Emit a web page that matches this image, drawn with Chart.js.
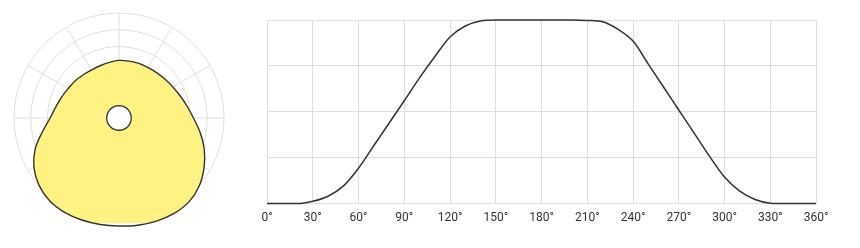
<!DOCTYPE html>
<html>
<head>
<meta charset="utf-8">
<script src="https://cdn.jsdelivr.net/npm/chart.js@4/dist/chart.umd.min.js"></script>
<style>
  html, body { margin: 0; padding: 0; background: #ffffff; }
  #wrap { position: relative; width: 860px; height: 248px; overflow: hidden; }
  #polar { position: absolute; left: 0; top: 0; }
  #curve { position: absolute; left: 240px; top: 0; }
</style>
</head>
<body>
<div id="wrap">
  <canvas id="polar" width="240" height="248"></canvas>
  <canvas id="curve" width="620" height="248"></canvas>
</div>
<script>
// ---- Polar (light distribution) data: angle in degrees clockwise from top ----
const polarAngles = [0,10,20,30,40,50,60,70,80,90,100,110,120,130,140,150,160,170,
                     180,190,200,210,220,230,240,250,260,270,280,290,300,310,320,330,340,350];
const polarValues = [3.43,3.44,3.46,3.47,3.51,3.58,3.70,3.87,4.11,4.43,4.90,5.40,5.85,6.25,6.50,6.56,6.53,6.48,
                     6.43,6.44,6.46,6.48,6.43,6.22,5.85,5.30,4.62,4.10,3.82,3.64,3.50,3.42,3.34,3.29,3.31,3.36];
const holeValue = 0.73;
const polarRings = [0.25,1.25,2.25,3.25,4.25,5.25,6.25];
const polarMax = 6.25;

// ---- Curve data ----
const curveAngles = [0,10,20,30,40,50,60,70,80,90,100,110,120,130,140,150,160,170,180,
                     190,200,210,220,230,240,250,260,270,280,290,300,310,320,330,340,350,360];
const curveValues = [0,0,0,0.05,0.16,0.38,0.77,1.26,1.75,2.24,2.74,3.2,3.63,3.87,3.98,4.0,4.0,4.0,4.0,
                     4.0,4.0,3.99,3.96,3.8,3.54,3.04,2.54,2.04,1.54,1.04,0.58,0.27,0.09,0.01,0,0,0];
const xTicks = [0,30,60,90,120,150,180,210,240,270,300,330,360];
const yMax = 4;

const GRID = '#dedede';
const LINE = '#333333';

new Chart(document.getElementById('polar'), {
  type: 'radar',
  data: {
    labels: polarAngles.map(a => a + '°'),
    datasets: [
      {
        data: polarAngles.map(() => holeValue),
        backgroundColor: '#ffffff',
        borderColor: LINE,
        borderWidth: 1.3,
        pointRadius: 0,
        fill: true,
        tension: 0.4,
        clip: false
      },
      {
        data: polarValues,
        backgroundColor: '#fef382',
        borderColor: LINE,
        borderWidth: 1.4,
        pointRadius: 0,
        fill: true,
        tension: 0.35,
        clip: false
      }
    ]
  },
  options: {
    responsive: false,
    animation: false,
    devicePixelRatio: 1,
    layout: { padding: { left: 14, right: 16, top: 13, bottom: 25 } },
    plugins: { legend: { display: false }, tooltip: { enabled: false } },
    scales: {
      r: {
        min: 0,
        max: polarMax,
        afterBuildTicks: s => { s.ticks = polarRings.map(v => ({ value: v })); },
        ticks: { display: false },
        pointLabels: { display: false },
        grid: { circular: true, color: GRID, lineWidth: 1 },
        angleLines: {
          display: true,
          lineWidth: 1,
          color: ctx => (polarAngles[ctx.index] % 30 === 0 ? GRID : 'rgba(0,0,0,0)')
        }
      }
    }
  }
});

new Chart(document.getElementById('curve'), {
  type: 'line',
  data: {
    datasets: [{
      data: curveAngles.map((a, i) => ({ x: a, y: curveValues[i] })),
      borderColor: LINE,
      borderWidth: 1.5,
      pointRadius: 0,
      fill: false,
      cubicInterpolationMode: 'monotone',
      clip: false
    }]
  },
  options: {
    responsive: false,
    animation: false,
    devicePixelRatio: 1,
    layout: { padding: { left: 27, right: 44, top: 20, bottom: 16 } },
    plugins: { legend: { display: false }, tooltip: { enabled: false } },
    scales: {
      x: {
        type: 'linear',
        min: 0,
        max: 360,
        afterBuildTicks: s => { s.ticks = xTicks.map(v => ({ value: v })); },
        grid: { color: GRID, drawTicks: false },
        border: { color: GRID },
        ticks: {
          padding: 7,
          color: '#333333',
          font: { family: 'Roboto, sans-serif', size: 12 },
          callback: v => v + '°',
          maxRotation: 0,
          autoSkip: false
        }
      },
      y: {
        min: 0,
        max: yMax,
        ticks: { display: false, stepSize: 1 },
        grid: { color: GRID, drawTicks: false },
        border: { color: GRID },
        afterFit: s => { s.width = 0; }
      }
    }
  }
});
</script>
</body>
</html>
